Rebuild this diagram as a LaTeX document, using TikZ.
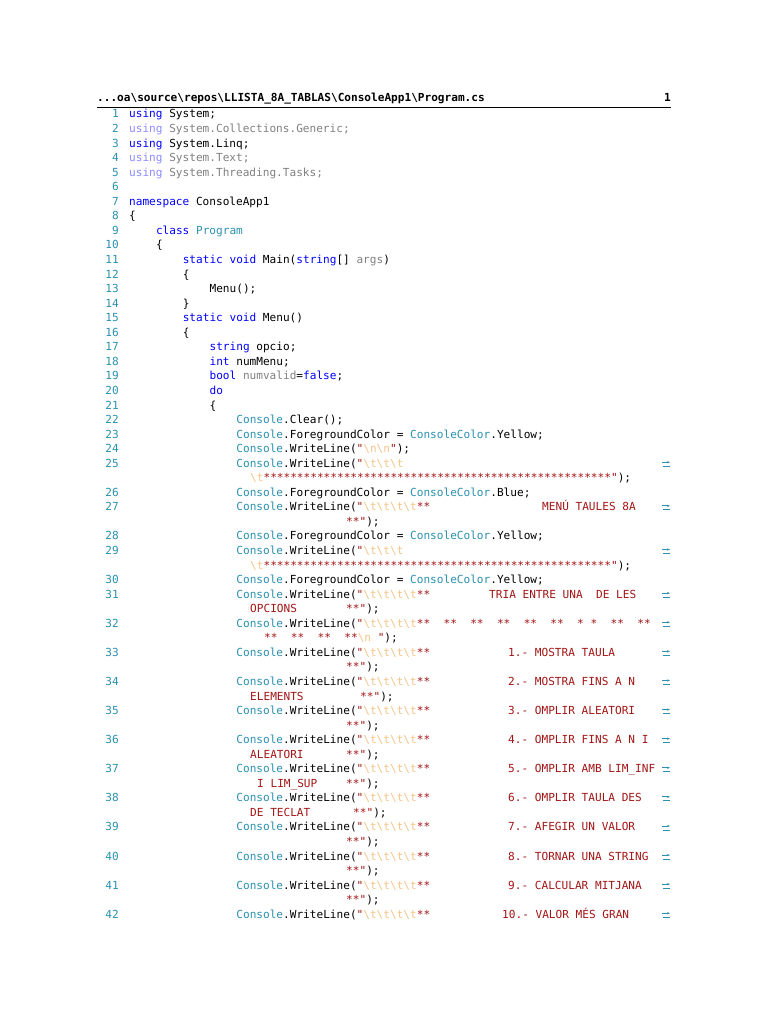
\documentclass[tikz,border=0pt]{standalone}
\usepackage{fontspec}
\usetikzlibrary{arrows.meta}
\setmonofont{DejaVu Sans Mono}
\definecolor{kwblue}{HTML}{0000FF}
\definecolor{kwpale}{HTML}{8C8CFF}
\definecolor{tyteal}{HTML}{2B91AF}
\definecolor{strred}{HTML}{A31515}
\definecolor{escor}{HTML}{F5C58A}
\definecolor{greytx}{HTML}{808080}
\newcommand\kw[1]{\textcolor{kwblue}{#1}}
\newcommand\kp[1]{\textcolor{kwpale}{#1}}
\newcommand\ty[1]{\textcolor{tyteal}{#1}}
\newcommand\str[1]{\textcolor{strred}{#1}}
\newcommand\gy[1]{\textcolor{greytx}{#1}}
\newcommand\tb{\textcolor{escor}{\textbackslash t}}
\newcommand\nl{\textcolor{escor}{\textbackslash n}}
\newcommand\starline{\str{****************************************************}}
\newcommand\cw{\ty{Console}.WriteLine(\str{"}}
\newcommand\cwq{\cw\tb\tb\tb\tb\str{**}}
\begin{document}
\begin{tikzpicture}[x=1pt,y=-1pt,
  codetxt/.style={anchor=base west,inner sep=0pt,font=\ttfamily\fontsize{11.1}{13}\selectfont},
  numtxt/.style={anchor=base east,inner sep=0pt,text=tyteal,font=\ttfamily\fontsize{11.1}{13}\selectfont},
  headtxt/.style={anchor=base west,inner sep=0pt,font=\ttfamily\bfseries\fontsize{11.1}{13}\selectfont}]
\useasboundingbox[fill=white] (0,0) rectangle (768,1024);
\newcommand\crow[3]{\node[codetxt] at ({129+6.7*#2},{118+14.55*#1}) {#3};}
\newcommand\cxat[3]{\node[codetxt] at (#2,{118+14.55*#1}) {#3};}
\newcommand\lnum[2]{\node[numtxt] at (119,{118+14.55*#1}) {#2};}
\newcommand\wrap[1]{\draw[tyteal,line width=0.8pt,-{Stealth[length=3pt]}]
  (662,{113+14.55*#1}) -- (670,{113+14.55*#1});
  \draw[tyteal,line width=0.8pt] (663,{117+14.55*#1}) -- (670,{117+14.55*#1});}
% header
\node[headtxt] (head) at (97,102) {...oa\textbackslash source\textbackslash repos\textbackslash LLISTA\_8A\_TABLAS\textbackslash ConsoleApp1\textbackslash Program.cs};
\node[headtxt,anchor=base east] (page) at (671,102) {1};
\draw[line width=0.8pt] (97,107) -- (671,107);
% line numbers
\foreach \r/\n in {0/1,1/2,2/3,3/4,4/5,5/6,6/7,7/8,8/9,9/10,10/11,11/12,12/13,13/14,
  14/15,15/16,16/17,17/18,18/19,19/20,20/21,21/22,22/23,23/24,24/25,26/26,27/27,
  29/28,30/29,32/30,33/31,35/32,37/33,39/34,41/35,43/36,45/37,47/38,49/39,51/40,
  53/41,55/42}
  {\lnum{\r}{\n}}
% code
\crow{0}{0}{\kw{using} System;}
\crow{1}{0}{\kp{using} \gy{System.Collections.Generic;}}
\crow{2}{0}{\kw{using} System.Linq;}
\crow{3}{0}{\kp{using} \gy{System.Text;}}
\crow{4}{0}{\kp{using} \gy{System.Threading.Tasks;}}
\crow{6}{0}{\kw{namespace} ConsoleApp1}
\crow{7}{0}{\{}
\crow{8}{4}{\kw{class} \ty{Program}}
\crow{9}{4}{\{}
\crow{10}{8}{\kw{static} \kw{void} Main(\kw{string}[] \gy{args})}
\crow{11}{8}{\{}
\crow{12}{12}{Menu();}
\crow{13}{8}{\}}
\crow{14}{8}{\kw{static} \kw{void} Menu()}
\crow{15}{8}{\{}
\crow{16}{12}{\kw{string} opcio;}
\crow{17}{12}{\kw{int} numMenu;}
\crow{18}{12}{\kw{bool} \gy{numvalid}=\kw{false};}
\crow{19}{12}{\kw{do}}
\crow{20}{12}{\{}
\crow{21}{16}{\ty{Console}.Clear();}
\crow{22}{16}{\ty{Console}.ForegroundColor = \ty{ConsoleColor}.Yellow;}
\crow{23}{16}{\cw\nl\nl\str{"});}
\crow{24}{16}{\cw\tb\tb\tb} \wrap{24}
\cxat{25}{250}{\tb\starline\str{"});}
\crow{26}{16}{\ty{Console}.ForegroundColor = \ty{ConsoleColor}.Blue;}
\crow{27}{16}{\cwq} \cxat{27}{542}{\str{MENÚ TAULES 8A}} \wrap{27}
\cxat{28}{346}{\str{**"});}
\crow{29}{16}{\ty{Console}.ForegroundColor = \ty{ConsoleColor}.Yellow;}
\crow{30}{16}{\cw\tb\tb\tb} \wrap{30}
\cxat{31}{250}{\tb\starline\str{"});}
\crow{32}{16}{\ty{Console}.ForegroundColor = \ty{ConsoleColor}.Yellow;}
\crow{33}{16}{\cwq} \cxat{33}{489}{\str{TRIA ENTRE UNA~~DE LES}} \wrap{33}
\cxat{34}{250}{\str{OPCIONS}} \cxat{34}{346}{\str{**"});}
\crow{35}{16}{\cwq\str{~~**~~**~~**~~**~~**~~*~*~~**~~**}} \wrap{35}
\cxat{36}{264}{\str{**~~**~~**~~**}\nl\str{~"});}
% menu entries
\foreach \r/\x/\t in {37/508/{1.- MOSTRA TAULA},39/508/{2.- MOSTRA FINS A N},
  41/508/{3.- OMPLIR ALEATORI},43/508/{4.- OMPLIR FINS A N I},
  45/508/{5.- OMPLIR AMB LIM\_INF},47/508/{6.- OMPLIR TAULA DES},
  49/508/{7.- AFEGIR UN VALOR},51/508/{8.- TORNAR UNA STRING},
  53/508/{9.- CALCULAR MITJANA},55/502/{10.- VALOR MÉS GRAN}}
  {\crow{\r}{16}{\cwq} \cxat{\r}{\x}{\str{\t}} \wrap{\r}}
\foreach \r in {38,42,50,52,54} {\cxat{\r}{346}{\str{**"});}}
\cxat{40}{250}{\str{ELEMENTS}} \cxat{40}{360}{\str{**"});}
\cxat{44}{250}{\str{ALEATORI}} \cxat{44}{346}{\str{**"});}
\cxat{46}{257}{\str{I LIM\_SUP}} \cxat{46}{346}{\str{**"});}
\cxat{48}{250}{\str{DE TECLAT}} \cxat{48}{353}{\str{**"});}
\end{tikzpicture}
\end{document}
